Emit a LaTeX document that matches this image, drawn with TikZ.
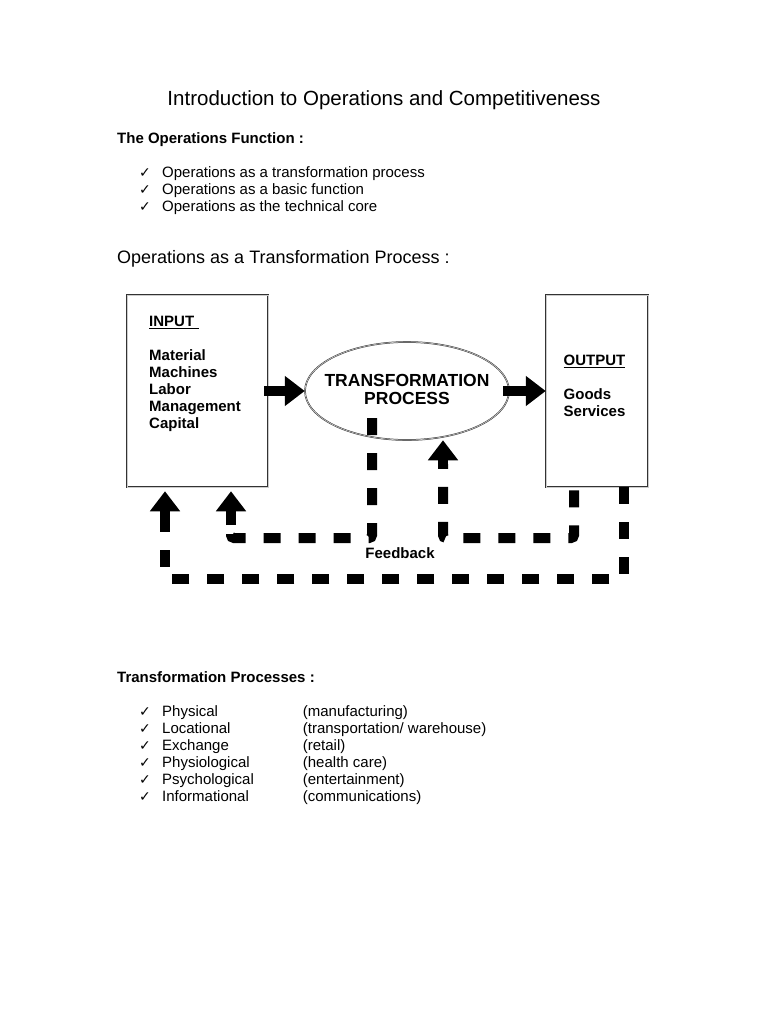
\documentclass[tikz,border=0pt]{standalone}
\usepackage{fontspec}
\setmainfont{Liberation Sans}
\newfontfamily\dejavu{DejaVu Sans}
\usetikzlibrary{
    shapes.geometric,
    arrows.meta, calc
}

\newcommand{\chk}{{\dejavu\fontsize{14}{17}\selectfont ✓}}
\newcommand{\ck}[1]{\makebox[23pt][l]{\chk}#1}

\tikzset{
    boxframe/.style={draw=black!80, double=black!20, double distance=0.6pt, line width=0.5pt},
    txt/.style={inner sep=0pt, font=\fontsize{15}{17}\selectfont, align=left},
    txtbold/.style={inner sep=0pt, font=\fontsize{15}{17}\selectfont\bfseries, align=left},
    blockarrow/.style={line width=10pt, -{Triangle[width=29pt,length=20pt]}},
    fbline/.style={line width=10pt, dash pattern=on 17pt off 18pt, rounded corners=3pt}
}

\begin{document}
\begin{tikzpicture}[x=1pt, y=-1pt]
        \useasboundingbox (0,0) rectangle (768,1024);
        \node[txt, font=\fontsize{20.5}{24}\selectfont, anchor=base] (title) at (384,105.6) {Introduction to Operations and Competitiveness};
        \node[txtbold, anchor=base west] (funchead) at (117,144) {The Operations Function :};
        \node[txt, anchor=north west] (funclist) at (139,166.4) {\ck{Operations as a transformation process}\\ \ck{Operations as a basic function}\\ \ck{Operations as the technical core}};
        \node[txt, font=\fontsize{18}{20}\selectfont, anchor=base west] (tphead) at (117,263) {Operations as a Transformation Process :};
        % the three blocks
        \node[boxframe, minimum width=141pt, minimum height=192pt] (in) at (197.5,391) {};
        \node[boxframe, minimum width=102pt, minimum height=192pt] (out) at (597,391) {};
        \node[boxframe, ellipse, minimum width=204pt, minimum height=98pt, inner sep=0pt] (proc) at (407,391) {};
        \node[txtbold, align=center, font=\fontsize{17.5}{18}\selectfont\bfseries] (proctext) at ($(proc.center)+(0,-2)$) {TRANSFORMATION\\PROCESS};
        \node[txtbold, anchor=north west] (inlist) at (149,316.3) {\underline{INPUT\,\,}\\[17pt] Material\\ Machines\\ Labor\\ Management\\ Capital};
        \node[txtbold, anchor=north west] (outlist) at (563.5,354.6) {\underline{OUTPUT}\\[17pt] Goods\\ Services};
        \draw[blockarrow] ($(in.east)+(-4,0)$) -- (proc.west);
        \draw[blockarrow] ($(proc.east)+(-6,0)$) -- (out.west);
        % feedback loops
        \coordinate (fbin1) at (231,525);
        \coordinate (fbin2) at (165,522);
        \coordinate (fbproc) at (443,464);
        \draw[fbline] ($(proc.center)+(-35,27)$) |- (231,538) -- (fbin1);
        \draw[fbline] ($(out.south)+(-23,3)$) |- (443,538) -- (fbproc);
        \draw[fbline] ($(out.south)+(27,0)$) |- (165,579) -- (fbin2);
        \draw[blockarrow, shorten >=4pt] (fbin1) -- (fbin1 |- in.south);
        \draw[blockarrow, shorten >=4pt] (fbin2) -- (fbin2 |- in.south);
        \draw[blockarrow] (fbproc) -- (fbproc |- proc.south);
        \node[txtbold, anchor=base] (fb) at (400,558.4) {Feedback};
        \node[txtbold, anchor=base west] (prochead) at (117,682.4) {Transformation Processes :};
        \node[txt, anchor=north west] (kinds) at (139,705.4) {\ck{Physical}\\ \ck{Locational}\\ \ck{Exchange}\\ \ck{Physiological}\\ \ck{Psychological}\\ \ck{Informational}};
        \node[txt, anchor=north west] (examples) at (302.7,705.2) {(manufacturing)\\ (transportation/ warehouse)\\ (retail)\\ (health care)\\ (entertainment)\\ (communications)};
    \end{tikzpicture}
\end{document}
